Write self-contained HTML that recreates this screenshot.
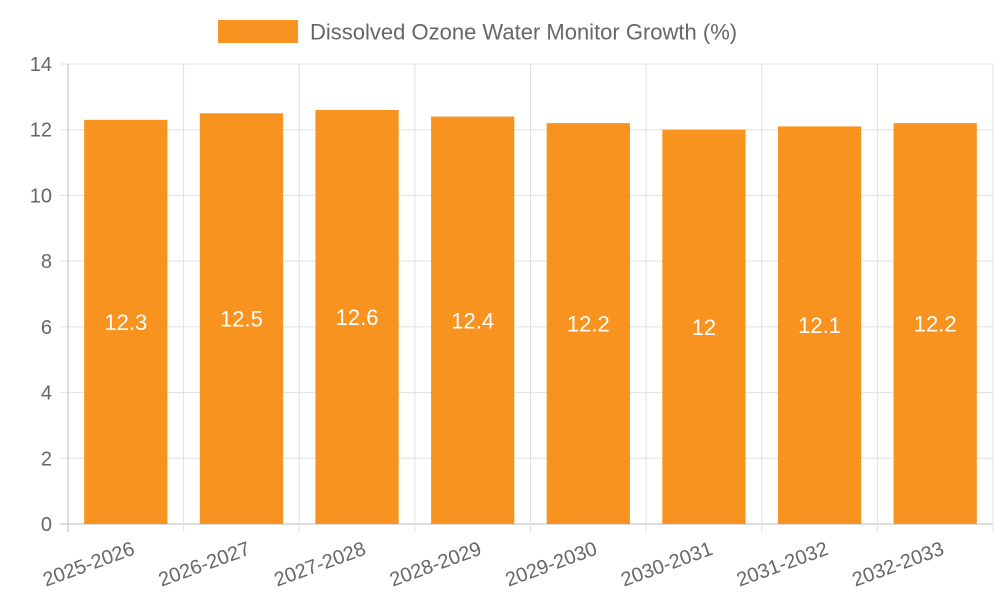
<!DOCTYPE html>
<html><head><meta charset="utf-8"><style>
body{margin:0;background:#fff;font-family:"Liberation Sans",sans-serif}
</style></head><body>
<svg id="c" width="1000" height="600" xmlns="http://www.w3.org/2000/svg">
<g>
<rect x="218" y="20" width="80" height="23" fill="#f7931e"/>
<text x="310" y="39.5" font-size="22" fill="#666">Dissolved Ozone Water Monitor Growth (%)</text>
</g>
<g id="grid"></g><g id="bars"></g><g id="labels"></g>
</svg>
<script>
const categories=["2025-2026","2026-2027","2027-2028","2028-2029","2029-2030","2030-2031","2031-2032","2032-2033"];
const values=[12.3,12.5,12.6,12.4,12.2,12,12.1,12.2];
const yTicks=[0,2,4,6,8,10,12,14];
const NS="http://www.w3.org/2000/svg";
const L=68,R=993,T=64,B=524,yMax=14;
const y=v=>B-(v/yMax)*(B-T);
const step=(R-L)/categories.length;
const x=i=>L+step*i;
function mk(tag,attrs,parent,txt){const e=document.createElementNS(NS,tag);for(const k in attrs)e.setAttribute(k,attrs[k]);if(txt!==undefined)e.textContent=txt;parent.appendChild(e);return e;}
const g=document.getElementById('grid'),gb=document.getElementById('bars'),gl=document.getElementById('labels');
yTicks.forEach(t=>{
 const ln=mk('line',{x1:L-8,x2:R,y1:y(t),y2:y(t),stroke:t===0?'#bbb':'#e0e0e0','stroke-width':1},g);
 
 
 const tx=mk('text',{x:L-16,y:y(t)+7,'text-anchor':'end','font-size':20,fill:'#666'},g,String(t));
 
 
});
for(let i=0;i<=categories.length;i++){
 const ln=mk('line',{x1:x(i),x2:x(i),y1:T,y2:B+8,stroke:i===0?'#bbb':'#e0e0e0','stroke-width':1},g);
 
 
}
const bw=step*0.72;
values.forEach((v,i)=>{
 const cx=x(i)+step/2;
 const r=mk('rect',{x:cx-bw/2,y:y(v),width:bw,height:B-y(v),fill:'#f7931e'},gb);
 
 
 const t=mk('text',{x:cx,y:(y(v)+B)/2+8,'text-anchor':'middle','font-size':22,fill:'#fff'},gl,String(v));
 
 
 const c=mk('text',{x:cx+10,y:B+30,'text-anchor':'end','font-size':20,fill:'#666',transform:`rotate(-20 ${cx+10} ${B+30})`},gl,categories[i]);
 
 
});
</script>
</body></html>
